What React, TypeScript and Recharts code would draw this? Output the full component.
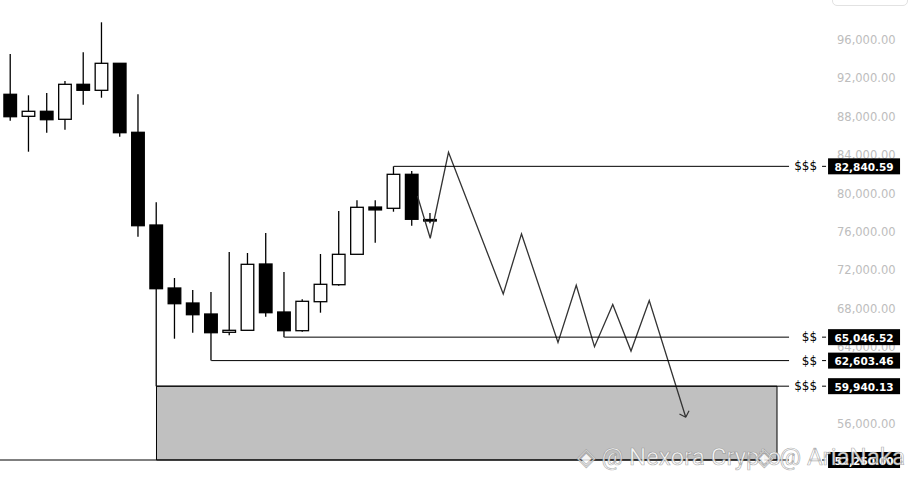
import React from "react";
import { ComposedChart, Bar, Line, XAxis, YAxis, ReferenceLine, ReferenceArea } from "recharts";

// candles (index = position on the time axis)
const opens = [90344, 88052, 88573, 87740, 91385, 90760, 93573, 86385, 76729, 70167, 68604, 67458, 65552, 65760, 72667, 67667, 65719, 68740, 70510, 73677, 78600, 78469, 82010, 77300];
const highs = [94542, 90240, 90479, 91729, 94719, 97844, 93573, 90344, 79094, 71208, 69958, 69750, 73917, 73813, 75896, 71833, 68990, 73708, 78187, 79302, 79302, 82840.59, 82354, 77979];
const lows = [87594, 84365, 86344, 86656, 89260, 89990, 85927, 75510, 59940.13, 64885, 65510, 62603.46, 65240, 65760, 67177, 65046.52, 65615, 67594, 70406, 73677, 74885, 78115, 76656, 76900];
const closes = [88010, 88573, 87698, 91385, 90760, 93573, 86344, 76656, 70094, 68531, 67385, 65510, 65760, 72635, 67594, 65719, 68781, 70552, 73677, 78573, 78300, 82010, 77323, 77150];

// projected path
const pathX = [22.3, 23, 24, 27, 28, 30, 31, 32, 33, 34, 35, 37];
const pathY = [79750, 75350, 84300, 69550, 75800, 64500, 70450, 64050, 68450, 63600, 68850, 56700];

// liquidity levels
const levelValues = [82840.59, 65046.52, 62603.46, 59940.13];
const levelStarts = [21, 15, 11, 8];
const levelMarks = ["$$$", "$$", "$$", "$$$"];
const levelEnd = 42.66;
const zoneBottom = 52250;
const zoneRight = 42;

const yTicks = [52000, 56000, 60000, 64000, 68000, 72000, 76000, 80000, 84000, 88000, 92000, 96000];

const candles = opens.map((o, i) => ({
  i,
  open: o,
  high: highs[i],
  low: lows[i],
  close: closes[i],
  range: [lows[i], highs[i]],
}));
const path = pathX.map((x, k) => ({ i: x, v: pathY[k] }));

const fmt = (v: number) => v.toLocaleString("en-US", { minimumFractionDigits: 2, maximumFractionDigits: 2 });

function Candle(props: any) {
  const { x, y, width, height, payload } = props;
  const top = Math.min(y, y + height);
  const h = Math.abs(height);
  const { open, close, high, low } = payload;
  const py = (v: number) => top + ((high - v) / (high - low)) * h;
  const cx = x + width / 2;
  const half = 6.3;
  const bodyTop = py(Math.max(open, close));
  const bodyBot = py(Math.min(open, close));
  const up = close >= open;
  return (
    <g>
      <line x1={cx} x2={cx} y1={top} y2={top + h} stroke="#000" strokeWidth={1.3} />
      <rect
        x={cx - half}
        y={bodyTop}
        width={half * 2}
        height={Math.max(bodyBot - bodyTop, 1.5)}
        fill={up ? "#fff" : "#000"}
        stroke="#000"
        strokeWidth={1.3}
      />
    </g>
  );
}

const tag = (mark: string, text: string) => (props: any) => {
  const { x, y, width } = props.viewBox;
  const end = x + width;
  return (
    <g>
      {mark && (
        <text x={end + 28} y={y} textAnchor="end" dominantBaseline="central" fontSize={12} fill="#000" fontFamily="DejaVu Sans">
          {mark}
        </text>
      )}
      <line x1={end + 33} x2={end + 37} y1={y} y2={y} stroke="#000" strokeWidth={1} />
      <rect x={end + 39} y={y - 8} width={72} height={16} fill="#000" />
      <text x={end + 75} y={y + 0.5} textAnchor="middle" dominantBaseline="central" fontSize={10.5} fontWeight="bold" fill="#fff" fontFamily="DejaVu Sans">
        {text}
      </text>
    </g>
  );
};

const ArrowDot = (props: any) => {
  const { cx, cy, index } = props;
  if (index !== path.length - 1) return <g key={index} />;
  return (
    <g key={index}>
      <line x1={cx - 6.3} y1={cy - 3.3} x2={cx} y2={cy} stroke="#333" strokeWidth={1.2} />
      <line x1={cx + 3.3} y1={cy - 6.6} x2={cx} y2={cy} stroke="#333" strokeWidth={1.2} />
    </g>
  );
};

const mark: React.CSSProperties = {
  position: "absolute",
  fontFamily: "Roboto, 'DejaVu Sans', sans-serif",
  fontSize: 24,
  color: "rgba(255,255,255,0.85)",
  WebkitTextStroke: "0.7px rgba(120,120,120,0.6)",
  whiteSpace: "nowrap",
  pointerEvents: "none",
};

export default function App() {
  return (
    <div style={{ position: "absolute", left: 0, top: 0, width: 911, height: 485, background: "#fff", overflow: "hidden" }}>
      <ComposedChart width={911} height={485} data={candles} margin={{ top: 0, right: 0, bottom: 0, left: 0 }}>
        <XAxis dataKey="i" type="number" domain={[-0.575, 44.356]} allowDataOverflow hide />
        <YAxis
          orientation="right"
          type="number"
          width={91}
          domain={[49646, 100167]}
          allowDataOverflow
          ticks={yTicks}
          tickFormatter={fmt}
          axisLine={false}
          tickLine={false}
          tickSize={6}
          tickMargin={11}
          tick={{ fill: "#bdbdbd", fontSize: 11.5, fontFamily: "DejaVu Sans", textAnchor: "start" }}
        />
        <ReferenceArea
          x1={levelStarts[3]}
          x2={zoneRight}
          y1={zoneBottom}
          y2={levelValues[3]}
          fill="#c0c0c0"
          fillOpacity={1}
          stroke="#000"
          strokeWidth={1}
        />
        <Bar dataKey="range" barSize={13} shape={Candle} isAnimationActive={false} />
        <Line
          data={path}
          dataKey="v"
          type="linear"
          stroke="#333"
          strokeWidth={1.3}
          dot={ArrowDot}
          activeDot={false}
          isAnimationActive={false}
        />
        <ReferenceLine
          segment={[{ x: -0.575, y: zoneBottom }, { x: levelEnd, y: zoneBottom }]}
          stroke="#000"
          strokeWidth={1}
          zIndex={3000}
          label={tag("", fmt(zoneBottom))}
        />
        {levelValues.map((v, k) => (
          <ReferenceLine
            key={k}
            segment={[{ x: levelStarts[k], y: v }, { x: levelEnd, y: v }]}
            stroke="#000"
            strokeWidth={1}
            zIndex={3000}
            label={tag(levelMarks[k], fmt(v))}
          />
        ))}
      </ComposedChart>
      <div style={{ position: "absolute", left: 832, top: -12, width: 74, height: 16, border: "1px solid #e2e2e2", borderRadius: 5 }} />
      <div style={{ ...mark, left: 577, top: 443 }}>◈ @ Nexora Crypto</div>
      <div style={{ ...mark, left: 755, top: 443 }}>◈ @ AriaNaka</div>
    </div>
  );
}
